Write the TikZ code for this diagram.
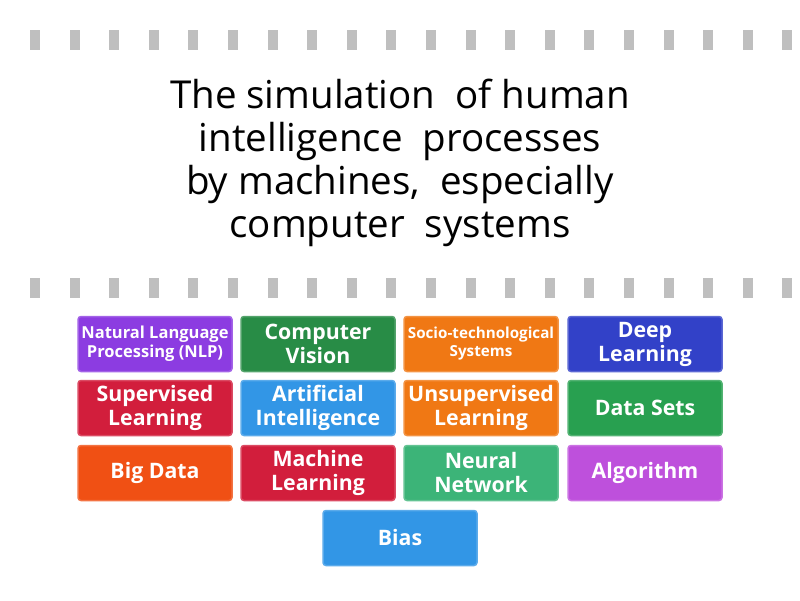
\documentclass[tikz,border=0pt]{standalone}
\usepackage{fontspec}
\setmainfont{Open Sans}
\begin{document}
\begin{tikzpicture}[x=1pt,y=-1pt,
 bar/.style={fill=black!25,draw=none},
 tile/.style={draw=#1!80!white,fill=#1,line width=1.5pt,rounded corners=3pt,minimum width=154pt,minimum height=55pt,text=white,font=\bfseries\fontsize{21.3}{24}\selectfont,align=center,inner sep=1pt},
 small/.style={font=\bfseries\fontsize{16.5}{19}\selectfont},
 tiny/.style={font=\bfseries\fontsize{15.2}{18}\selectfont}]
\definecolor{cpur}{RGB}{140,60,225}
\definecolor{cgrn}{RGB}{40,140,70}
\definecolor{corg}{RGB}{240,120,20}
\definecolor{cdbl}{RGB}{50,65,200}
\definecolor{cred}{RGB}{210,30,60}
\definecolor{cblu}{RGB}{50,150,230}
\definecolor{cgr2}{RGB}{40,160,80}
\definecolor{cor2}{RGB}{240,80,20}
\definecolor{cteal}{RGB}{60,180,120}
\definecolor{cmag}{RGB}{190,80,220}
\useasboundingbox (0,0) rectangle (800,600);
\foreach \i in {0,...,19}{
 \fill[bar] ({30+39.6*\i},30) rectangle ++(10,20);
 \fill[bar] ({30+39.6*\i},278) rectangle ++(10,20);}
\node[align=center,font=\fontsize{38.5}{43}\selectfont] (title) at (400,163)
 {The simulation\ \ of human\\intelligence\ \ processes\\by machines,\ \ especially\\computer\ \ systems};
\node[tile=cpur,small] (t1) at (155,344) {Natural Language\\Processing (NLP)};
\node[tile=cgrn] (t2) at (318,344) {Computer\\Vision};
\node[tile=corg,tiny] (t3) at (481,344) {Socio-technological\\Systems};
\node[tile=cdbl] (t4) at (645,344) {Deep\\Learning};
\node[tile=cred] (t5) at (155,408) {Supervised\\Learning};
\node[tile=cblu] (t6) at (318,408) {Artificial\\Intelligence};
\node[tile=corg] (t7) at (481,408) {Unsupervised\\Learning};
\node[tile=cgr2] (t8) at (645,408) {Data Sets};
\node[tile=cor2] (t9) at (155,473) {Big Data};
\node[tile=cred] (t10) at (318,473) {Machine\\Learning};
\node[tile=cteal] (t11) at (481,473) {Neural\\Network};
\node[tile=cmag] (t12) at (645,473) {Algorithm};
\node[tile=cblu] (t13) at (400,538) {Bias};
\end{tikzpicture}
\end{document}
